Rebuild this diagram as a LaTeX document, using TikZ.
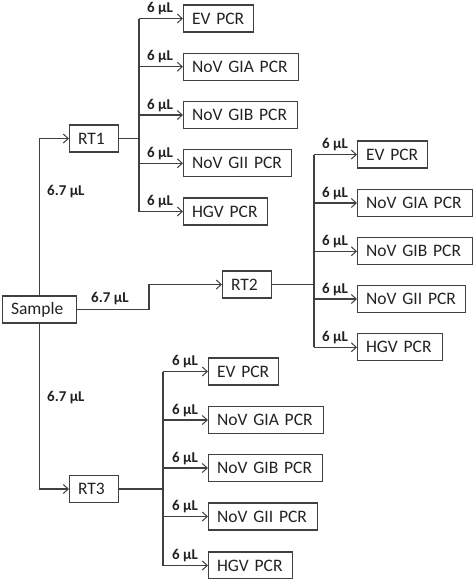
\documentclass[tikz,border=0pt]{standalone}
\usepackage{fontspec}
\setmainfont{Carlito}
\usetikzlibrary{arrows.meta}
\definecolor{linegray}{HTML}{404040}
\definecolor{txt}{HTML}{222222}
\begin{document}
\begin{tikzpicture}[x=1pt,y=-1pt,
  box/.style={draw=linegray, line width=1.1pt, minimum height=27pt, inner ysep=0pt,
    inner xsep=8.5pt, anchor=west, align=left, text=txt,
    font=\fontsize{17.5}{20}\selectfont},
  vol/.style={anchor=base west, inner sep=0pt, text=txt,
    font=\fontsize{15}{18}\selectfont\bfseries},
  ln/.style={draw=linegray, line width=1.1pt},
  arr/.style={ln, -{Straight Barb[length=5pt,width=9pt,line width=1pt]}}]
\useasboundingbox (0,0) rectangle (474,579);
\begin{scope}
\clip (0,0) rectangle (474,579);
% Sample and RT boxes
\node[box, text width=57pt] (sample) at (2,309.5) {Sample};
\node[box, text width=32pt] (rt1) at (69,138.5) {RT1};
\node[box, text width=32pt] (rt2) at (222,284.5) {RT2};
\node[box, text width=32pt] (rt3) at (69,489) {RT3};
% group 1
\node[box, text width=53pt] (ev1) at (183,18.5) {EV PCR};
\node[box, text width=98pt] (gia1) at (183,66.75) {NoV GIA PCR};
\node[box, text width=97pt] (gib1) at (183,115) {NoV GIB PCR};
\node[box, text width=91pt] (gii1) at (183,163.25) {NoV GII PCR};
\node[box, text width=67pt] (hgv1) at (183,211.5) {HGV PCR};
% group 2
\node[box, text width=53pt] (ev2) at (357,154.5) {EV PCR};
\node[box, text width=98pt] (gia2) at (357,203) {NoV GIA PCR};
\node[box, text width=98pt] (gib2) at (357,251.25) {NoV GIB PCR};
\node[box, text width=91pt] (gii2) at (357,299) {NoV GII PCR};
\node[box, text width=68pt] (hgv2) at (357,347.25) {HGV PCR};
% group 3
\node[box, text width=53pt] (ev3) at (208,371.5) {EV PCR};
\node[box, text width=98pt] (gia3) at (208,420) {NoV GIA PCR};
\node[box, text width=97pt] (gib3) at (208,468) {NoV GIB PCR};
\node[box, text width=92pt] (gii3) at (208,516.5) {NoV GII PCR};
\node[box, text width=67pt] (hgv3) at (208,565.5) {HGV PCR};
% branch coordinates
\coordinate (b1) at (139,138.5);
\coordinate (b2) at (314,284.5);
\coordinate (b3) at (163,489);
\coordinate (k) at (149,297);
% sample connectors
\draw[arr] (sample.north) |- (rt1.west);
\draw[arr] (sample.south) |- (rt3.west);
\draw[arr] (sample.east) -| (k) |- (rt2.west);
% RT to branch
\draw[ln] (rt1.east) -- (b1);
\draw[ln] (rt2.east) -- (b2);
\draw[ln] (rt3.east) -- (b3);
\draw[ln] (b1 |- ev1.west) -- (b1 |- hgv1.west);
\draw[ln] (b2 |- ev2.west) -- (b2 |- hgv2.west);
\draw[ln] (b3 |- ev3.west) -- (b3 |- hgv3.west);
\foreach \n in {ev1,gia1,gib1,gii1,hgv1}{\draw[arr] (b1 |- \n.west) -- (\n.west);}
\foreach \n in {ev2,gia2,gib2,gii2,hgv2}{\draw[arr] (b2 |- \n.west) -- (\n.west);}
\foreach \n in {ev3,gia3,gib3,gii3,hgv3}{\draw[arr] (b3 |- \n.west) -- (\n.west);}
% volume labels
\node[vol] (v1) at (47,195) {6.7 μL};
\node[vol] (v2) at (91,302) {6.7 μL};
\node[vol] (v3) at (47,401) {6.7 μL};
\foreach \y [count=\i] in {18.5,66.75,115,163.25,211.5}{\node[vol] (la\i) at (147,\y-6) {6 μL};}
\foreach \y [count=\i] in {154.5,203,251.25,299,347.25}{\node[vol] (lb\i) at (322,\y-6) {6 μL};}
\foreach \y [count=\i] in {371.5,420,468,516.5,565.5}{\node[vol] (lc\i) at (172,\y-6) {6 μL};}
\end{scope}
\end{tikzpicture}
\end{document}
